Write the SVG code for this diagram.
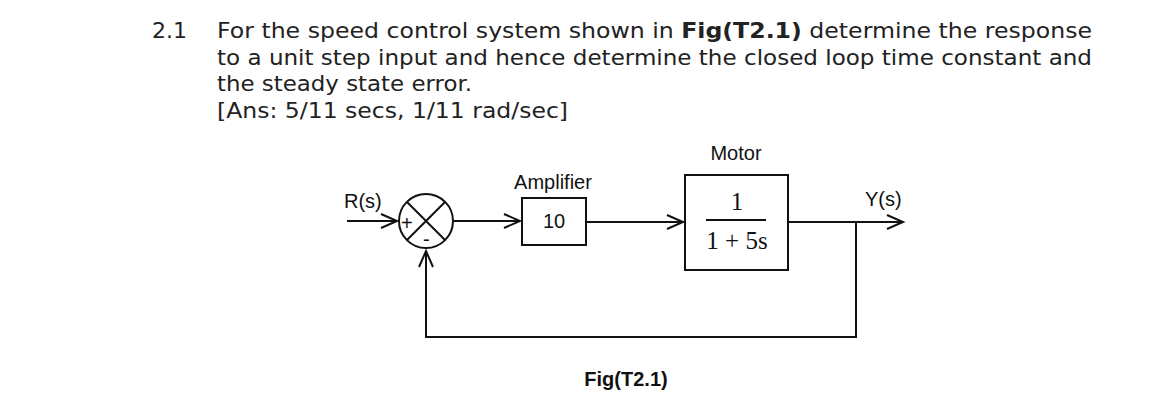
<svg xmlns="http://www.w3.org/2000/svg" width="1170" height="415" viewBox="0 0 1170 415">
<style>
.q{font-family:"DejaVu Sans",Verdana,sans-serif;font-size:22px;fill:#222}
.l{font-family:"Liberation Sans",Arial,sans-serif;font-size:20px;fill:#111}
.m{font-family:"Liberation Serif","Times New Roman",serif;font-size:25px;fill:#111}
.s{fill:none;stroke:#111;stroke-width:2}
</style>
<defs><marker id="a" markerWidth="20" markerHeight="20" refX="17" refY="8" orient="auto" markerUnits="userSpaceOnUse"><path d="M1,1 L17,8 L1,15" fill="none" stroke="#111" stroke-width="2"/></marker></defs>
<rect width="1170" height="415" fill="#fff"/>
<g id="question">
<text class="q" x="152" y="38">2.1</text>
<text class="q" x="217" y="38" textLength="875" lengthAdjust="spacingAndGlyphs">For the speed control system shown in <tspan font-weight="bold">Fig(T2.1)</tspan> determine the response</text>
<text class="q" x="217" y="65" textLength="875" lengthAdjust="spacingAndGlyphs">to a unit step input and hence determine the closed loop time constant and</text>
<text class="q" x="217" y="91" textLength="255" lengthAdjust="spacingAndGlyphs">the steady state error.</text>
<text class="q" x="217" y="118" textLength="351" lengthAdjust="spacingAndGlyphs">[Ans: 5/11 secs, 1/11 rad/sec]</text>
</g>
<g id="sum">
<circle class="s" cx="426" cy="221" r="27"/>
<path class="s" d="M407,202 L445,240 M445,202 L407,240"/>
<text class="l" x="401" y="230" font-size="15">+</text>
<text class="l" x="423" y="246" font-size="15">-</text>
</g>
<g id="amp">
<rect class="s" x="522" y="198" width="64" height="47"/>
<text class="l" x="554" y="228" text-anchor="middle">10</text>
<text class="l" x="553" y="189" text-anchor="middle">Amplifier</text>
</g>
<g id="motor">
<rect class="s" x="685" y="175" width="103" height="95"/>
<text class="m" x="737" y="210" text-anchor="middle">1</text>
<line class="s" x1="706" y1="220" x2="766" y2="220" stroke-width="1.5"/>
<text class="m" x="737" y="249" text-anchor="middle">1 + 5s</text>
<text class="l" x="736" y="160" text-anchor="middle">Motor</text>
</g>
<g id="labels">
<text class="l" x="344" y="208">R(s)</text>
<text class="l" x="865" y="206">Y(s)</text>
<text class="l" x="626" y="386" text-anchor="middle" font-weight="bold">Fig(T2.1)</text>
</g>
<g id="connectors">
<line class="s" x1="347" y1="221" x2="397" y2="221" marker-end="url(#a)"/>
<line class="s" x1="453" y1="221" x2="520" y2="221" marker-end="url(#a)"/>
<line class="s" x1="586" y1="222" x2="683" y2="222" marker-end="url(#a)"/>
<line class="s" x1="788" y1="222" x2="903" y2="222" marker-end="url(#a)"/>
<path class="s" d="M856,222 L856,337 L426,337 L426,251" marker-end="url(#a)"/>
</g>
</svg>
